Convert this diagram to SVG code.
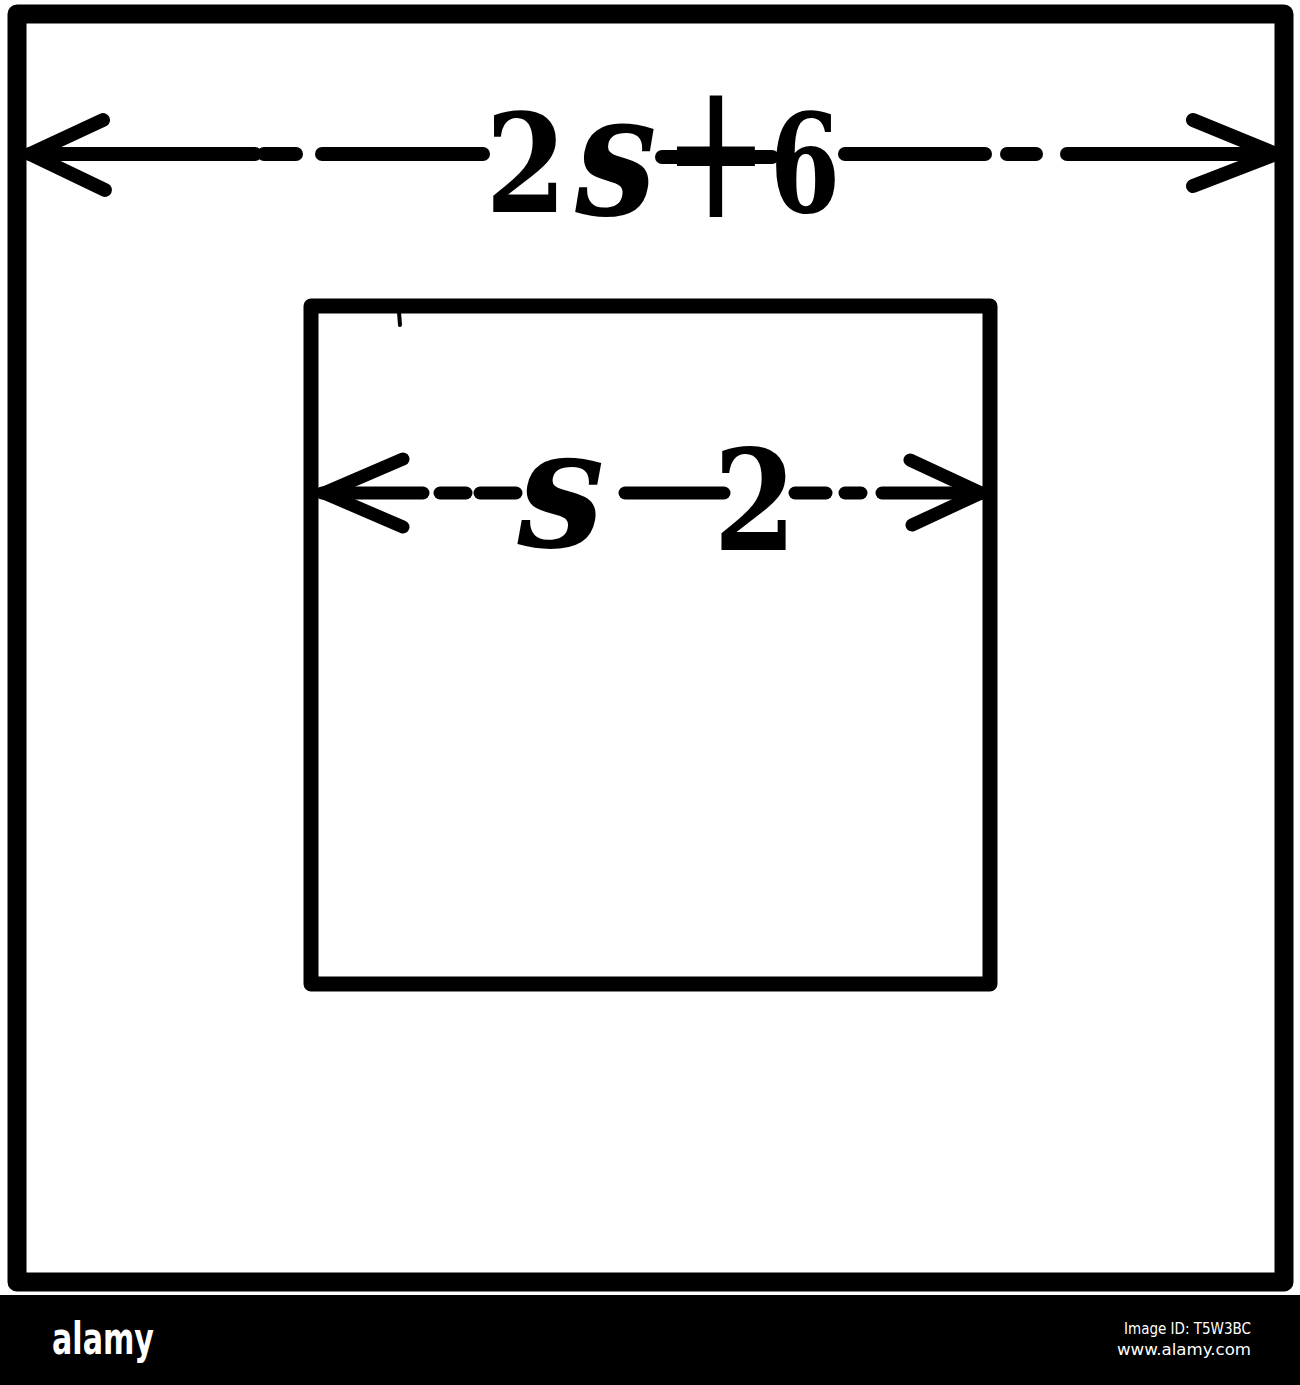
<svg xmlns="http://www.w3.org/2000/svg" width="1300" height="1385" viewBox="0 0 1300 1385">
  <style>
    .frame { fill: none; stroke: #000; stroke-linejoin: round; stroke-linecap: round; }
    .dim { fill: none; stroke: #000; stroke-linecap: round; stroke-linejoin: round; }
    .lbl { font-family: "DejaVu Serif", "Liberation Serif", serif; font-weight: bold; fill: #000; text-anchor: middle; }
    .sym { font-family: "DejaVu Sans", "Liberation Sans", sans-serif; font-weight: normal; fill: #000; stroke: #000; stroke-width: 4; text-anchor: middle; }
    .it { font-style: italic; }
    .band { font-family: "DejaVu Sans", "Liberation Sans", sans-serif; fill: #fff; }
  </style>
  <rect x="0" y="0" width="1300" height="1385" fill="#fff"/>

  <g id="outer-square">
    <rect class="frame" x="17" y="14" width="1267" height="1268" stroke-width="19"/>
  </g>

  <g id="inner-square">
    <rect class="frame" x="311" y="306" width="679" height="678" stroke-width="15"/>
    <line x1="399" y1="312" x2="400" y2="325" stroke="#000" stroke-width="4" stroke-linecap="round"/>
  </g>

  <g id="connectors">
    <!-- outer dimension 2s+6 -->
    <g class="dim" stroke-width="14">
      <line x1="30" y1="154" x2="255" y2="154"/>
      <line x1="264" y1="154" x2="296" y2="154"/>
      <line x1="322" y1="154" x2="483" y2="154"/>
      <line x1="662" y1="157" x2="690" y2="157"/>
      <line x1="742" y1="157" x2="772" y2="157"/>
      <line x1="845" y1="154" x2="985" y2="154"/>
      <line x1="1007" y1="154" x2="1036" y2="154"/>
      <line x1="1067" y1="154" x2="1276" y2="154"/>
      <polyline points="103,120 30,154 105,190"/>
      <polyline points="1193,120 1276,154 1193,186"/>
    </g>
    <!-- inner dimension s-2 -->
    <g class="dim" stroke-width="13">
      <line x1="322" y1="493" x2="423" y2="493"/>
      <line x1="440" y1="493" x2="466" y2="493"/>
      <line x1="480" y1="493" x2="516" y2="493"/>
      <line x1="625" y1="493" x2="724" y2="493"/>
      <line x1="795" y1="493" x2="826" y2="493"/>
      <line x1="845" y1="493" x2="861" y2="493"/>
      <line x1="882" y1="493" x2="983" y2="493"/>
      <polyline points="403,459 324,493 403,527"/>
      <polyline points="910,460 981,493 912,525"/>
    </g>
  </g>

  <g id="label-outer">
    <text class="lbl" font-size="137" transform="translate(526,212) scale(0.85,1)">2</text>
    <text class="lbl it" font-size="170" transform="translate(616,215) scale(0.85,1)">s</text>
    <text class="sym" font-size="188" transform="translate(716,215) scale(0.64,1)">+</text>
    <text class="lbl" font-size="137" transform="translate(805,212) scale(0.74,1)">6</text>
  </g>

  <g id="label-inner">
    <text class="lbl it" font-size="166" transform="translate(561,547) scale(0.93,1)">s</text>
    <text class="lbl" font-size="140" transform="translate(755,550) scale(0.85,1)">2</text>
  </g>

  <g id="footer">
    <rect x="0" y="1295" width="1300" height="90" fill="#000"/>
    <text class="band" x="52" y="1354" font-size="45" font-weight="bold" textLength="102" lengthAdjust="spacingAndGlyphs">alamy</text>
    <text class="band" x="1124" y="1334" font-size="15" fill="#e6e6e6" textLength="127" lengthAdjust="spacingAndGlyphs">Image ID: T5W3BC</text>
    <text class="band" x="1117" y="1355" font-size="16" textLength="134" lengthAdjust="spacingAndGlyphs">www.alamy.com</text>
  </g>
</svg>
